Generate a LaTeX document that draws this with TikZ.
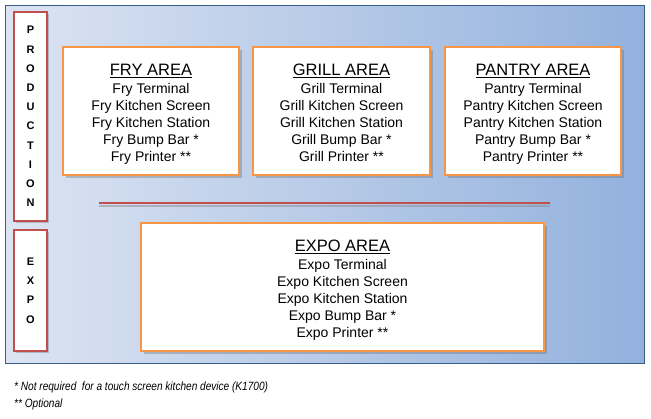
\documentclass[tikz,border=0pt]{standalone}
\usepackage{fontspec}
\setmainfont{Liberation Sans}
\newfontfamily\notefont{Liberation Sans}[FakeStretch=0.84]
\usetikzlibrary{shadows}
\definecolor{bgl}{HTML}{DCE4F2}
\definecolor{bgr}{HTML}{93B1DD}
\definecolor{frameblue}{HTML}{385D8A}
\definecolor{areaorange}{HTML}{F79646}
\definecolor{tabred}{HTML}{C0504D}
\tikzset{
  area/.style={draw=areaorange, line width=2pt, fill=white, inner sep=0pt,
    drop shadow={shadow xshift=3pt, shadow yshift=-3pt, opacity=0.35, fill=black!60}},
  areatext/.style={anchor=north, align=center, inner sep=0pt,
    font=\fontsize{14}{17}\selectfont},
  tab/.style={draw=tabred, line width=2.2pt, fill=white, align=center,
    inner sep=0pt, minimum width=33pt, font=\fontsize{11}{19.2}\selectfont\bfseries,
    drop shadow={shadow xshift=2pt, shadow yshift=-2pt, opacity=0.35, fill=black!60}},
  note/.style={anchor=west, inner sep=0pt, font=\fontsize{12}{14}\selectfont\notefont\itshape}
}
\newcommand{\areatitle}[1]{{\fontsize{16.5}{18}\selectfont\underline{#1}}\\[1pt]}
\begin{document}
\begin{tikzpicture}[x=1pt,y=-1pt]
\useasboundingbox (0,0) rectangle (651,419);
\node[draw=frameblue, line width=1.6pt, left color=bgl, right color=bgr, minimum width=639pt, minimum height=358pt, inner sep=0pt] (frame) at (325,184.5) {};
\node[tab, minimum height=209pt] (prod) at (30.5,116.5) {P\\R\\O\\D\\U\\C\\T\\I\\O\\N};
\node[tab, minimum height=121pt] (expo) at (30.5,290.5) {E\\X\\P\\O};
\node[area, minimum width=176pt, minimum height=128pt] (fry) at (151,111) {};
\node[area, minimum width=177pt, minimum height=128pt] (grill) at (341.5,111) {};
\node[area, minimum width=176pt, minimum height=128pt] (pantry) at (533,111) {};
\node[area, minimum width=403pt, minimum height=128pt] (expoarea) at (342.5,287) {};
\node[areatext] (frytext) at ([yshift=-18pt]fry.north) {\areatitle{FRY AREA}Fry Terminal\\Fry Kitchen Screen\\Fry Kitchen Station\\Fry Bump Bar *\\Fry Printer **};
\node[areatext] (grilltext) at ([yshift=-18pt]grill.north) {\areatitle{GRILL AREA}Grill Terminal\\Grill Kitchen Screen\\Grill Kitchen Station\\Grill Bump Bar *\\Grill Printer **};
\node[areatext] (pantrytext) at ([yshift=-18pt]pantry.north) {\areatitle{PANTRY AREA}Pantry Terminal\\Pantry Kitchen Screen\\Pantry Kitchen Station\\Pantry Bump Bar *\\Pantry Printer **};
\node[areatext] (expotext) at ([yshift=-18pt]expoarea.north) {\areatitle{EXPO AREA}Expo Terminal\\Expo Kitchen Screen\\Expo Kitchen Station\\Expo Bump Bar *\\Expo Printer **};
\coordinate (la) at (99,203);
\coordinate (lb) at (550,203);
\draw[line width=2pt, black!45, opacity=0.5] ([yshift=-3pt]la) -- ([yshift=-3pt]lb);
\draw[line width=1.8pt, tabred] (la) -- (lb);
\node[note] (n1) at (14,387) {* Not required\ \ for a touch screen kitchen device (K1700)};
\node[note] (n2) at (14,404) {** Optional};
\end{tikzpicture}
\end{document}
